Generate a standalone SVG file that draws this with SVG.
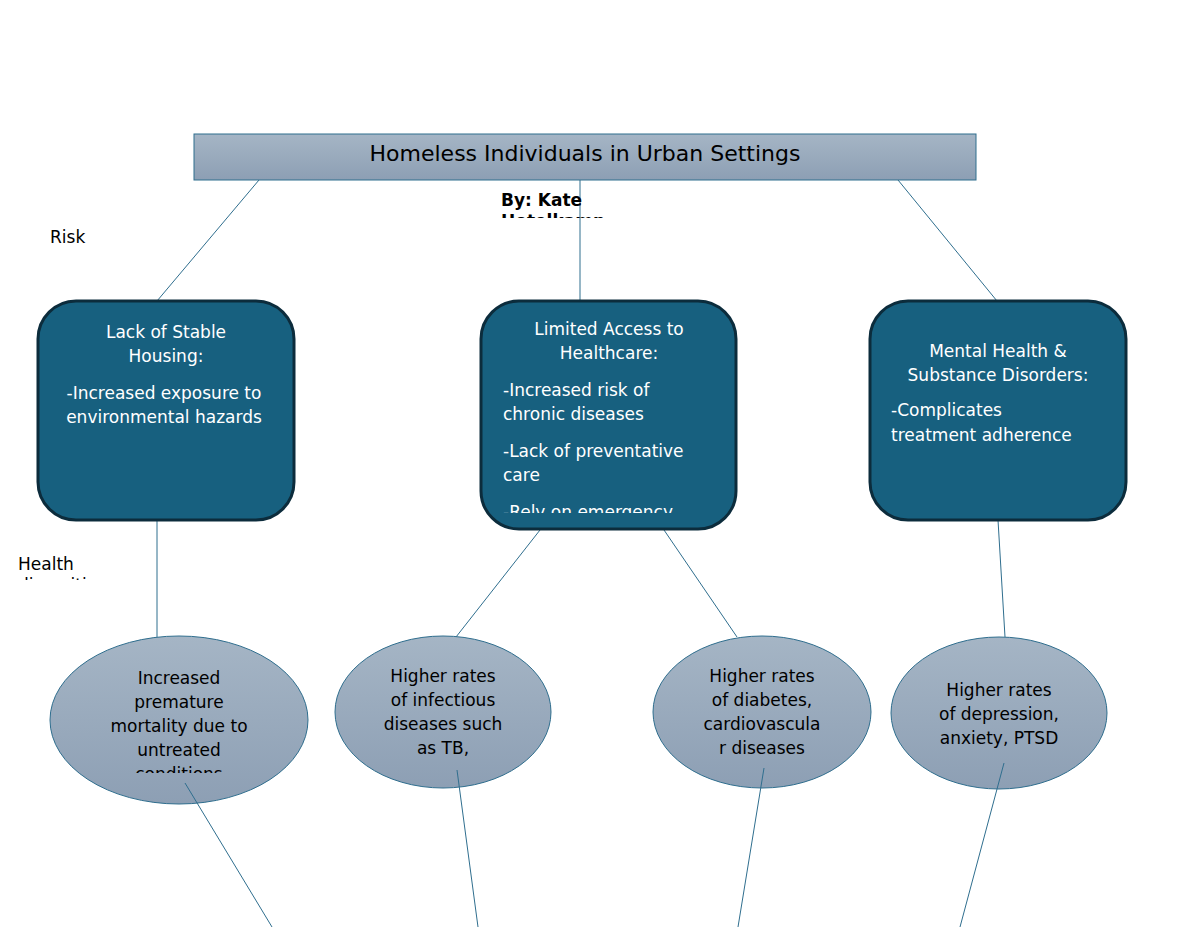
<svg xmlns="http://www.w3.org/2000/svg" width="1200" height="927" viewBox="0 0 1200 927">
<defs>
<linearGradient id="g" x1="0" y1="0" x2="0" y2="1"><stop offset="0" stop-color="#a5b5c5"/><stop offset="1" stop-color="#8d9fb4"/></linearGradient>
<clipPath id="c1"><rect x="0" y="180" width="1200" height="38"/></clipPath>
<clipPath id="c2"><rect x="0" y="540" width="200" height="40"/></clipPath>
<clipPath id="c3"><rect x="480" y="300" width="260" height="213"/></clipPath>
<clipPath id="c4"><rect x="50" y="640" width="260" height="133"/></clipPath>
</defs>
<style>
text{font-family:"DejaVu Sans",Verdana,sans-serif;font-size:17px}
.w{fill:#fff}.k{fill:#000}
.box{fill:#17607f;stroke:#0c2c3c;stroke-width:3}
.ell{fill:url(#g);stroke:#2f6e8e;stroke-width:1}
.ln{stroke:#2f6e8e;stroke-width:1;fill:none}
</style>
<rect width="1200" height="927" fill="#fff"/>
<g id="connectors">
<line class="ln" x1="259" y1="180" x2="157" y2="301"/>
<line class="ln" x1="580" y1="180" x2="580" y2="301"/>
<line class="ln" x1="898" y1="180" x2="997" y2="301"/>
<line class="ln" x1="157" y1="520" x2="157" y2="637"/>
<line class="ln" x1="540" y1="530" x2="456" y2="637"/>
<line class="ln" x1="664" y1="530" x2="737" y2="637"/>
<line class="ln" x1="998" y1="520" x2="1005" y2="637"/>
</g>
<g id="title">
<rect x="194" y="134" width="782" height="46" fill="url(#g)" stroke="#2f6e8e"/>
<text x="585" y="161" text-anchor="middle" style="font-size:22px">Homeless Individuals in Urban Settings</text>
</g>
<g id="byline" clip-path="url(#c1)">
<text x="501" y="206" style="font-weight:bold">By: Kate</text>
<text x="501" y="227" style="font-weight:bold">Hotelkamp</text>
</g>
<text id="risk" x="50" y="243">Risk</text>
<g id="health" clip-path="url(#c2)">
<text x="18" y="570">Health</text>
<text x="18" y="591">disparities</text>
</g>
<g id="housing">
<rect class="box" x="38" y="301" width="256" height="219" rx="38"/>
<text class="w" x="166" y="338" text-anchor="middle">Lack of Stable</text>
<text class="w" x="166" y="362" text-anchor="middle">Housing:</text>
<text class="w" x="164" y="399" text-anchor="middle">-Increased exposure to</text>
<text class="w" x="164" y="423" text-anchor="middle">environmental hazards</text>
</g>
<g id="access">
<rect class="box" x="481" y="301" width="255" height="228" rx="38"/>
<g clip-path="url(#c3)">
<text class="w" x="609" y="335" text-anchor="middle">Limited Access to</text>
<text class="w" x="609" y="359" text-anchor="middle">Healthcare:</text>
<text class="w" x="503" y="396">-Increased risk of</text>
<text class="w" x="503" y="420">chronic diseases</text>
<text class="w" x="503" y="457">-Lack of preventative</text>
<text class="w" x="503" y="481">care</text>
<text class="w" x="503" y="518">-Rely on emergency</text>
</g>
</g>
<g id="mental">
<rect class="box" x="870" y="301" width="256" height="219" rx="38"/>
<text class="w" x="998" y="357" text-anchor="middle">Mental Health &amp;</text>
<text class="w" x="998" y="381" text-anchor="middle">Substance Disorders:</text>
<text class="w" x="891" y="416">-Complicates</text>
<text class="w" x="891" y="441">treatment adherence</text>
</g>
<g id="mortality">
<ellipse class="ell" cx="179" cy="720" rx="129" ry="84"/>
<g clip-path="url(#c4)">
<text x="179" y="684" text-anchor="middle">Increased</text>
<text x="179" y="708" text-anchor="middle">premature</text>
<text x="179" y="732" text-anchor="middle">mortality due to</text>
<text x="179" y="756" text-anchor="middle">untreated</text>
<text x="179" y="780" text-anchor="middle">conditions</text>
</g>
</g>
<g id="infectious">
<ellipse class="ell" cx="443" cy="712" rx="108" ry="76"/>
<text x="443" y="682" text-anchor="middle">Higher rates</text>
<text x="443" y="706" text-anchor="middle">of infectious</text>
<text x="443" y="730" text-anchor="middle">diseases such</text>
<text x="443" y="754" text-anchor="middle">as TB,</text>
</g>
<g id="diabetes">
<ellipse class="ell" cx="762" cy="712" rx="109" ry="76"/>
<text x="762" y="682" text-anchor="middle">Higher rates</text>
<text x="762" y="706" text-anchor="middle">of diabetes,</text>
<text x="762" y="730" text-anchor="middle">cardiovascula</text>
<text x="762" y="754" text-anchor="middle">r diseases</text>
</g>
<g id="depression">
<ellipse class="ell" cx="999" cy="713" rx="108" ry="76"/>
<text x="999" y="696" text-anchor="middle">Higher rates</text>
<text x="999" y="720" text-anchor="middle">of depression,</text>
<text x="999" y="744" text-anchor="middle">anxiety, PTSD</text>
</g>
<g id="connectors-lower">
<line class="ln" x1="185" y1="783" x2="272" y2="927"/>
<line class="ln" x1="457" y1="770" x2="478" y2="927"/>
<line class="ln" x1="764" y1="768" x2="738" y2="927"/>
<line class="ln" x1="1004" y1="763" x2="960" y2="927"/>
</g>
</svg>
